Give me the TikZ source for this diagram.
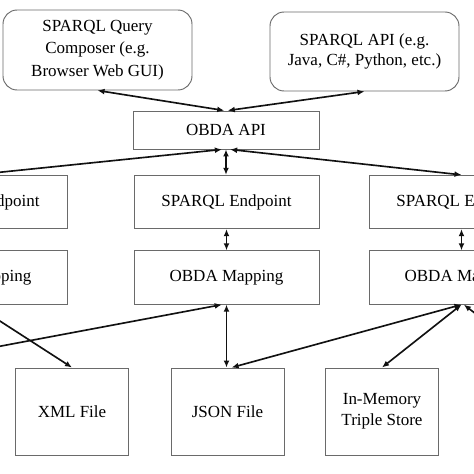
\documentclass[tikz,border=0pt]{standalone}
\usepackage{fontspec}
\setmainfont{Liberation Serif}
\usepackage{tikz}
\usetikzlibrary{arrows.meta,positioning,calc}
\definecolor{BoxGray}{HTML}{6A6A6A}
\definecolor{LinkBlack}{HTML}{111111}

\begin{document}
\begin{tikzpicture}[
		box/.style={draw=BoxGray,line width=0.8pt,fill=white,align=center,inner sep=0pt,font=\fontsize{14.5}{17}\selectfont},
		roundbox/.style={box,rounded corners=12pt},
		layerbox/.style={box,minimum width=5.55cm,minimum height=1.6cm},
		filebox/.style={box,minimum width=3.39cm,minimum height=2.61cm},
		link/.style={{Latex[length=6pt,width=5pt]}-{Latex[length=6pt,width=5pt]},LinkBlack,line width=1.4pt},
		onelink/.style={-{Latex[length=6pt,width=5pt]},LinkBlack,line width=1.4pt}
	]
		\useasboundingbox (0,0) rectangle (14.22,14.22);
		\clip (0,0) rectangle (14.22,14.22);
		\fill[white] (0,0) rectangle (14.22,14.22);
		\node[roundbox,minimum width=5.67cm,minimum height=2.4cm,font=\fontsize{14.5}{19}\selectfont] (composer) at (2.925,12.72) {SPARQL Query\\Composer (e.g.\\Browser Web GUI)};
		\node[roundbox,minimum width=5.67cm,minimum height=2.37cm] (sparqlapi) at (10.935,12.675) {SPARQL API (e.g.\\Java, C\#, Python, etc.)};
		\node[box,minimum width=5.58cm,minimum height=1.14cm] (api) at (6.78,10.32) {OBDA API};
		\node[layerbox] (endL) at (-0.765,8.16) {SPARQL Endpoint};
		\node[layerbox] (endM) at (6.795,8.16) {SPARQL Endpoint};
		\node[layerbox] (endR) at (13.845,8.16) {SPARQL Endpoint};
		\node[layerbox] (mapL) at (-0.765,5.895) {OBDA Mapping};
		\node[layerbox] (mapM) at (6.795,5.895) {OBDA Mapping};
		\node[layerbox] (mapR) at (13.845,5.895) {OBDA Mapping};
		\node[filebox] (xml) at (2.16,1.875) {XML File};
		\node[filebox] (json) at (6.825,1.875) {JSON File};
		\node[filebox,font=\fontsize{14.5}{18}\selectfont] (memory) at (11.46,1.875) {In-Memory\\Triple Store};
		\coordinate (srcL) at (-3.48,3.18);
		\coordinate (srcR) at (16.38,3.18);
		\draw[link] (composer.south) -- ([xshift=-1.5pt]api.north);
		\draw[link] (sparqlapi.south) -- ([xshift=1.5pt]api.north);
		\draw[link] ([xshift=-3.5pt]api.south) -- (endL.north);
		\draw[link] (api.south) -- (api.south |- endM.north);
		\draw[link] ([xshift=3.5pt]api.south) -- (endR.north);
		\draw[link] (endM.south) -- (mapM.north);
		\draw[link] (endR.south) -- (mapR.north);
		\draw[link] (mapL.south) -- (xml.north);
		\draw[onelink] (srcL) -- ([xshift=-4pt]mapM.south);
		\draw[link] (mapM.south) -- (mapM.south |- json.north);
		\draw[link] (mapR.south) -- ([xshift=3.5pt]json.north);
		\draw[link] (mapR.south) -- (memory.north);
		\draw[link] ([xshift=2pt]mapR.south) -- (srcR);
	\end{tikzpicture}
\end{document}
